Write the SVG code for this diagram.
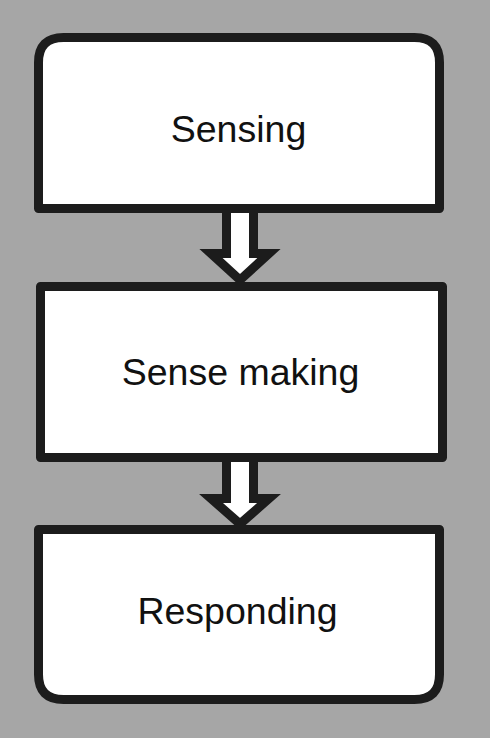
<svg xmlns="http://www.w3.org/2000/svg" width="490" height="738" viewBox="0 0 490 738">
<style>
.box{fill:#ffffff;stroke:#1c1c1c;stroke-width:9;stroke-linejoin:round}
.arrow{fill:#ffffff;stroke:#1c1c1c;stroke-width:9;stroke-linejoin:miter;stroke-miterlimit:10}
.lbl{font-family:"Liberation Sans",Arial,sans-serif;font-size:37.5px;fill:#111111;text-anchor:middle}
</style>
<rect x="0" y="0" width="490" height="738" fill="#a6a6a6"/>
<g id="connectors">
<path class="arrow" d="M226.5,200 L226.5,253.5 L211,253.5 L240,280 L269,253.5 L253.5,253.5 L253.5,200 Z"/>
<path class="arrow" d="M226.5,450 L226.5,498.5 L211,498.5 L240,524 L269,498.5 L253.5,498.5 L253.5,450 Z"/>
</g>
<g id="sensing">
<path class="box" d="M38.5,208.5 L38.5,62.5 Q38.5,37.5 63.5,37.5 L414.5,37.5 Q439.5,37.5 439.5,62.5 L439.5,208.5 Z"/>
<text class="lbl" x="238.5" y="141.5">Sensing</text>
</g>
<g id="sense-making">
<rect class="box" x="40.5" y="286.5" width="402" height="171"/>
<text class="lbl" x="240.5" y="384.5">Sense making</text>
</g>
<g id="responding">
<path class="box" d="M38.5,529.5 L439.5,529.5 L439.5,674.5 Q439.5,699.5 414.5,699.5 L63.5,699.5 Q38.5,699.5 38.5,674.5 Z"/>
<text class="lbl" x="237.5" y="624">Responding</text>
</g>
</svg>
